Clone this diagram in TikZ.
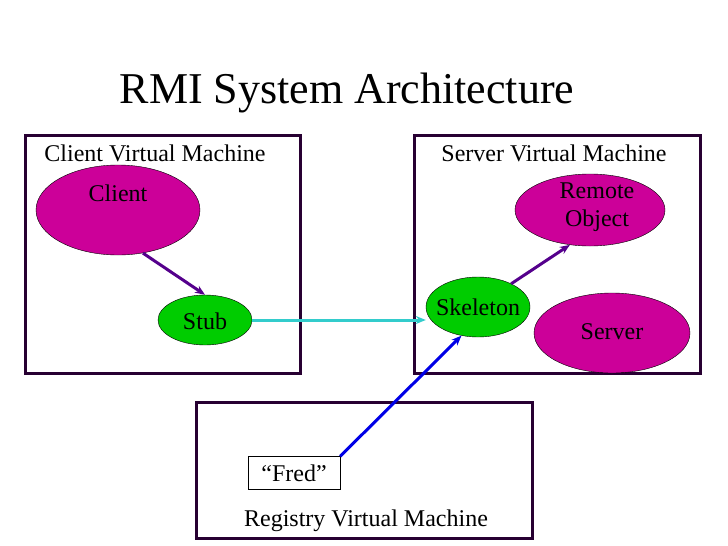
\documentclass[tikz,border=0pt]{standalone}
\usepackage{fontspec}
\setmainfont{Liberation Serif}
\usetikzlibrary{shapes.geometric,arrows.meta}
\definecolor{vmline}{RGB}{40,0,50}
\definecolor{blobpink}{RGB}{204,0,153}
\definecolor{blobgreen}{RGB}{0,204,0}
\definecolor{callpurple}{RGB}{85,0,140}
\definecolor{wirecyan}{RGB}{51,204,204}
\definecolor{lookblue}{RGB}{0,0,230}
\tikzset{
  vm/.style={draw=vmline,line width=3pt},
  obj/.style={ellipse,draw=black,fill=blobpink,align=center},
  gobj/.style={ellipse,draw=black,fill=blobgreen},
  lbl/.style={font=\fontsize{24}{28}\selectfont,inner sep=0pt},
  link/.style={-{Stealth[length=10pt,width=8pt]},line width=3pt},
}
\begin{document}
\begin{tikzpicture}[x=1pt,y=-1pt]
    \useasboundingbox (0,0) rectangle (728,546);
    \path (347,93) node [lbl,font=\fontsize{44}{48}\selectfont] (title) {RMI System Architecture};

    \draw [vm] (25,135) rectangle (300,373);
    \path (155,153) node [lbl] (cvm) {Client Virtual Machine};
    \draw [vm] (414,135) rectangle (700,373);
    \path (554,153) node [lbl] (svm) {Server Virtual Machine};
    \draw [vm] (196,402) rectangle (532,538);
    \path (366,521) node [lbl] (rvm) {Registry Virtual Machine};

    \path (118,210) node [obj,minimum width=164,minimum height=90] (client) {};
    \path (118,193) node [lbl] {Client};
    \path (205,320) node [gobj,minimum width=94,minimum height=50] (stub) {};
    \path (205,321) node [lbl] {Stub};
    \path (478,307) node [gobj,minimum width=104,minimum height=60] (skel) {};
    \path (478,307) node [lbl] {Skeleton};
    \path (590,210) node [obj,minimum width=150,minimum height=72] (remote) {};
    \path (597,207) node [lbl,align=center] {Remote\\Object};
    \path (612,333) node [obj,minimum width=156,minimum height=80] (server) {};
    \path (612,332) node [lbl] {Server};

    \path (294,473) node [draw,minimum width=92,minimum height=33] (fredbox) {};
    \path (294,473) node [lbl] (fred) {``Fred''};

    \draw [link,callpurple] (client.-60) -- (stub.north);
    \draw [link,wirecyan] (stub.east) -- (stub.east -| skel.west);
    \draw [link,callpurple] (skel.35) -- (remote.-120);
    \draw [link,lookblue] (fredbox.north east) -- (skel.-120);
\end{tikzpicture}
\end{document}
